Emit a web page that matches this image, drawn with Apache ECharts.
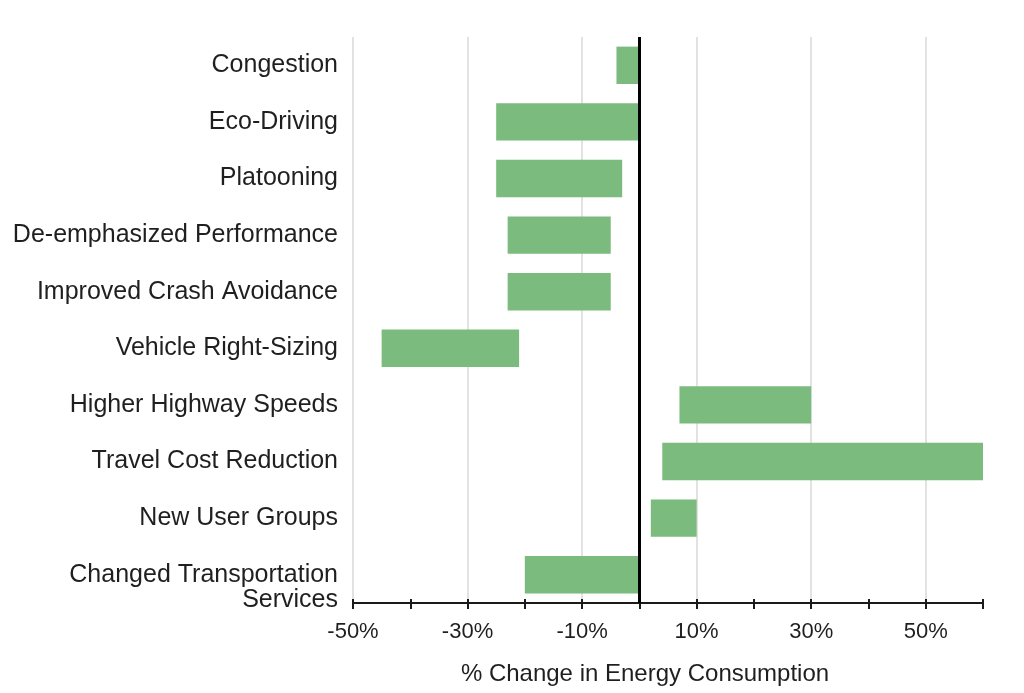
<!DOCTYPE html>
<html>
<head>
<meta charset="utf-8">
<script src="https://cdn.jsdelivr.net/npm/echarts@6/dist/echarts.min.js"></script>
<style>
  html, body { margin: 0; padding: 0; background: #ffffff; }
  #chart { width: 1024px; height: 693px; }
</style>
</head>
<body>
<div id="chart"></div>
<script>
const categories = [
  'Congestion',
  'Eco-Driving',
  'Platooning',
  'De-emphasized Performance',
  'Improved Crash Avoidance',
  'Vehicle Right-Sizing',
  'Higher Highway Speeds',
  'Travel Cost Reduction',
  'New User Groups',
  'Changed Transportation\nServices'
];
const lowValues  = [-4, -25, -25, -23, -23, -45, 7, 4, 2, -20];
const highValues = [0, 0, -3, -5, -5, -21, 30, 60, 10, 0];
const xTickLabels = ['-50%', '-30%', '-10%', '10%', '30%', '50%'];
const xAxisTitle = '% Change in Energy Consumption';

const FONT = "'Liberation Sans', Arial, sans-serif";
const barColor = '#7bbb7d';
const textColor = '#1f1f1f';

const rangeData = categories.map((c, i) => [i, lowValues[i], highValues[i]]);

const chart = echarts.init(document.getElementById('chart'));
chart.setOption({
  backgroundColor: '#ffffff',
  animation: false,
  grid: { left: 353, right: 41, top: 37, bottom: 90, containLabel: false },
  xAxis: [
    {
      type: 'value',
      position: 'bottom',
      min: -50,
      max: 60,
      interval: 10,
      axisLine: { show: true, lineStyle: { color: '#1a1a1a', width: 2 } },
      axisTick: { show: true, inside: false, length: 6, lineStyle: { color: '#1a1a1a', width: 2 } },
      axisLabel: {
        margin: 18,
        fontFamily: FONT,
        fontSize: 22,
        color: textColor,
        formatter: function (v) {
          const s = v + '%';
          return xTickLabels.indexOf(s) >= 0 ? s : '';
        }
      },
      splitLine: {
        show: true,
        showMinLine: true,
        showMaxLine: false,
        lineStyle: { color: ['#d9d9d9', 'rgba(0,0,0,0)'], width: 1.5 }
      },
      name: xAxisTitle,
      nameLocation: 'middle',
      nameGap: 59,
      nameTextStyle: { fontFamily: FONT, fontSize: 24, color: textColor, padding: [0, 46, 0, 0] }
    },
    {
      type: 'value',
      position: 'bottom',
      min: -50,
      max: 60,
      interval: 10,
      axisLine: { show: false },
      axisTick: { show: true, inside: true, length: 4, lineStyle: { color: '#1a1a1a', width: 2 } },
      axisLabel: { show: false },
      splitLine: { show: false }
    }
  ],
  yAxis: {
    type: 'category',
    data: categories,
    inverse: true,
    axisLine: { show: false },
    axisTick: { show: false },
    splitLine: { show: false },
    axisLabel: {
      interval: 0,
      margin: 15,
      fontFamily: FONT,
      fontSize: 25,
      lineHeight: 25,
      color: textColor,
      align: 'right',
      padding: [3, 0, 0, 0],
      formatter: function (v) {
        return v.indexOf('\n') >= 0 ? '\n' + v : v;
      }
    }
  },
  series: [
    {
      type: 'custom',
      xAxisIndex: 0,
      encode: { x: [1, 2], y: 0 },
      data: rangeData,
      renderItem: function (params, api) {
        const cat = api.value(0);
        const p1 = api.coord([api.value(1), cat]);
        const p2 = api.coord([api.value(2), cat]);
        const h = api.size([0, 1])[1] * 0.66;
        return {
          type: 'rect',
          shape: { x: Math.min(p1[0], p2[0]), y: p1[1] - h / 2, width: Math.abs(p2[0] - p1[0]), height: h },
          style: { fill: barColor }
        };
      },
      markLine: {
        silent: true,
        symbol: ['none', 'none'],
        label: { show: false },
        lineStyle: { color: '#000000', width: 3, type: 'solid' },
        data: [{ xAxis: 0 }],
        z: 10
      },
      z: 2
    }
  ]
});
</script>
</body>
</html>
